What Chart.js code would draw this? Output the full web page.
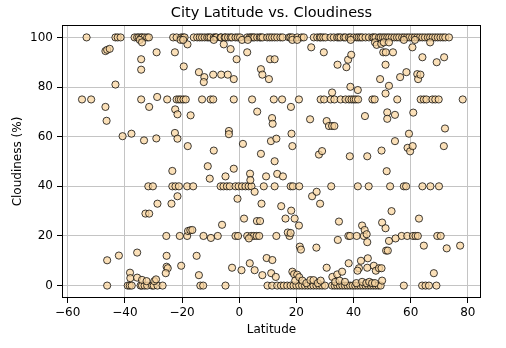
<!DOCTYPE html>
<html lang="en">
<head>
  <meta charset="UTF-8" />
  <title>City Latitude vs. Cloudiness</title>
  <script src="https://cdn.jsdelivr.net/npm/chart.js"></script>
  <style>
    body { margin: 0; background: #fff; }
    #wrap { width: 506px; height: 348px; }
  </style>
</head>
<body>
  <div id="wrap"><canvas id="scatter" width="506" height="348"></canvas></div>
  <script>
    // cities sitting on the common cloudiness levels (latitude only)
    const lat100 = [-53.4, -43.3, -42.5, -41.5, -36.6, -35.7, -35.1, -34.3, -33.9, -33.1, -32.2, -31.6,
      -23.1, -21.9, -20.3, -19.6, -19.1, -15.9, -14.7, -13.8, -13, -12.1, -11.2, -10.6, -10, -8.9, -8.3, -7.9, -6.5, -6.3, -5.1, -4.8, -3.9, -3, -2.5, -1.3, -0.5, 0.3,
      2.8, 3.7, 4.2, 4.8, 5.3, 6.3, 7.2, 7.6, 8.2, 9.8, 10.7, 11.5, 12.4, 13.3, 14.4, 15.2, 17.4, 17.9, 18.6, 20.3, 21.8, 22.6,
      26.1, 27.3, 28.2, 28.6, 29.4, 30.2, 32, 33.1, 34.3, 34.9, 35.5, 36.6, 37.2, 38.4, 39, 40.1, 41.1, 41.8, 42.5, 43.1, 44.2, 45.4, 46.6, 47.1, 47.7, 48.9,
      49.5, 50.3, 51, 51.8, 52.5, 53.4, 54.3, 55.2, 56, 57, 57.8, 58.7, 59.5, 60.5, 61.4, 62.3, 63.2, 64.1, 65, 66, 66.8, 67.7, 68.6, 69.5, 70.4, 71.3, 72.1, 73.4];
    const lat75 = [-55, -51.8, -34.3, -25.2, -21.9, -21.1, -20.4, -19.5, -18.7, -13, -10, -9.1, -1.9, 4.5, 12.1, 15, 20.9,
      28.5, 29.7, 32, 33.3, 35.5, 37.2, 38.4, 39.3, 40.1, 40.8, 41.6, 46.6, 47.4, 55.3, 63.5, 64.6, 65.5, 67.6, 68.6, 69.8, 78.2];
    const lat40 = [-31.8, -30.2, -23.4, -22.3, -21.1, -18.2, -16.1, -6.5, -5.5, -4.3, -3.3, -1.3, -0.2, 1, 2.2, 3.3, 4.3,
      8.6, 12.4, 18, 18.8, 21, 32.2, 41.5, 45.3, 52.8, 57.6, 58.4, 64.1, 66.9, 69.9];
    const lat20 = [-25.5, -20.8, -18.2, -12.5, -7.5, -1.3, -0.4, 2.8, 4.2, 5.1, 6.1, 7, 13, 17.6,
      38.2, 38.8, 41.1, 43.6, 56.8, 58.8, 60.8, 61.7, 62.5, 69.3, 70.5];
    const lat0 = [-46.2, -39, -38.3, -37.6, -34.5, -34, -33.1, -32.2, -30.5, -29.9, -28.6, -26.8, -13.6, -12.6, -4.8,
      9.9, 11.5, 13.3, 14.6, 15.6, 16.8, 18, 19, 20, 21, 22, 23, 24, 25, 26, 27, 28, 29, 30,
      32.5, 33.4, 34.3, 35.2, 36.1, 37, 37.9, 38.8, 39.7, 40.6, 41.5, 42.4, 43.3, 44.2, 45.1, 46, 46.9, 47.8, 48.7, 49.5,
      57.6, 64, 65.2, 66.4, 69];

    // everything else, as latitude / cloudiness pairs
    const latOther = [
      -46.8, -46.2, -45.3, -43.3, -46.8, -46.4, -40.8, -37.7, -34.3, -34.3,
      -33.3, -31.5, -28.9, -28.7, -29, -32.8, -31.5, -28.6, -23.7, -46.2,
      -42.1, -35.7, -38.2, -38.1, -35.7, -34, -32.4, -29.7, -29.1, -25.4,
      -25.4, -25, -25.7, -23.4, -22.5, -22.4, -21.6, -22.5, -21.6, -21.6,
      -20.3, -19.4, -18.1, -18, -17, -17.9, -17.1, -16.4, -14.9, -14.1,
      -14.1, -12.2, -12.4, -11, -10.3, -9.9, -9.1, -8.9, -6.3, -6,
      -5.4, -4.8, -4, -3.6, -3.6, -3, -2.5, -1.9, -1.9, -0.9,
      -0.6, 0.8, 1.3, 1.7, 2.8, 3.4, 3.8, 3.9, 3.7, 5.4,
      5.4, 6.2, 7.3, 6.3, 7.6, 8.1, 7.6, 7.8, 8.1, 9.4,
      9.6, 10.4, 10.8, 12.4, 11.5, 11.7, 11.1, 13, 12.4, 13.3,
      15.3, 11.6, 11.2, 12.8, 14.7, 16.2, 18.2, 19.4, 20.9, 17,
      18, 18.1, 18.3, 18.6, 21.2, 21.6, 18.6, 19.2, 20.3, 19.6,
      21, 22.1, 23.5, 24.9, 26, 27.5, 28.5, 24.8, 25.2, 25.5,
      27.1, 27, 28.3, 27.9, 29, 29.6, 30.6, 31.4, 32.5, 33.3,
      32.5, 30.6, 32.6, 34.3, 36, 33.6, 35.1, 37, 34.4, 34.9,
      34.5, 37.5, 38.1, 39.2, 38.9, 41.5, 38.7, 38.3, 43, 43.9,
      44.6, 44.8, 42.6, 41.9, 41.4, 44.8, 45, 44, 44.8, 47.5,
      48.1, 49.7, 50.6, 52.4, 50.4, 51.3, 53.8, 51.2, 49.3, 51.2,
      52.4, 51.8, 51.8, 54.5, 54.5, 49.8, 51.6, 50, 51.2, 51.4,
      52, 53.3, 52.4, 54.7, 56.3, 58.5, 59.4, 58.9, 59.8, 60.7,
      60.6, 60.9, 62.3, 62.6, 63.4, 62.9, 64.1, 64.6, 66.8, 68.1,
      69.1, 71.7, 71.6, 72, 72.6, 77.3, 47.1, 47.8, 48.9, 49.8,
      50, 57.6, 61.5, 39, 18.6, 20.3, 1, 3, -8.9, -20.5,
      -19.6, -34.8, -34, 41, 43, 44.5, 45.5, 46.5, 47.5
    ];
    const cloudOther = [
      94.5, 95, 95.4, 81, 72, 66.4, 60.2, 61.2, 91.2, 87,
      58.5, 72, 94, 76, 59.3, 29, 29, 33, 33, 10.2,
      12.1, 13.3, 5.2, 3, 3.2, 2.3, 1.8, 1.8, 2.5, 12,
      7.6, 7, 5, 46.2, 94, 71, 69, 61.5, 59.2, 36,
      8, 88.3, 97.2, 56.2, 68.6, 22, 22.3, 22.4, 12, 4.2,
      86, 84, 82, 48.1, 43.1, 19.2, 85, 54.4, 85, 24.5,
      97.2, 44, 85, 62.3, 61, 95.3, 7.2, 83.2, 47.1, 91.2,
      35, 6.2, 57.1, 27, 94, 19, 45.1, 42.5, 9, 37.8,
      6.2, 26, 26, 70.1, 87.2, 85, 53.1, 33, 4.2, 44,
      11.1, 83.2, 91.2, 91.2, 67.5, 65.2, 58.2, 59.2, 50.1, 45,
      44, 10.3, 5, 3.5, 32, 27, 30.2, 27, 24.2, 21.4,
      21.2, 72, 61.2, 56.2, 15.7, 14.5, 5.6, 4.6, 4.4, 2,
      3.4, 2, 1, 2.2, 2.2, 1, 2, 67, 96, 36,
      37.8, 15.3, 33, 52.8, 54.2, 94, 66.3, 64.3, 64.3, 64.3,
      77.8, 7.2, 3.5, 4.5, 5.6, 1.5, 2, 1.5, 89, 25.8,
      18.4, 88, 91, 93, 80.1, 78.8, 52.1, 9, 24.2, 22.4,
      20.7, 17.5, 10, 7, 6, 7.2, 11, 68.3, 52.1, 98,
      97, 97.4, 98, 98, 94, 94, 94, 89, 83.2, 77.4,
      80.5, 69.8, 67.2, 68.8, 58.2, 54.4, 46.1, 25.4, 23.1, 14.1,
      14.1, 30, 18, 19, 84, 86, 61.2, 55.5, 54.1, 56.2,
      96, 69.7, 85.2, 83.2, 85, 27, 92, 16.1, 98, 5,
      90, 92, 56.2, 63.3, 15, 16.1, 8, 6, 7, 7,
      2, 99, 99, 99, 99, 99, 99, 99, 99, 99,
      99, 99, 98, 1, 1.5, 1, 1.5, 1, 1
    ];

    const xTicks = [-60, -40, -20, 0, 20, 40, 60, 80];
    const yTicks = [0, 20, 40, 60, 80, 100];

    const points = [];
    [[lat100, 100], [lat75, 75], [lat40, 40], [lat20, 20], [lat0, 0]].forEach(([lats, c]) => {
      lats.forEach(x => points.push({ x: x, y: c }));
    });
    latOther.forEach((x, i) => points.push({ x: x, y: cloudOther[i] }));

    const font = { family: 'DejaVu Sans', size: 12 };
    const ink = '#000';

    // matplotlib style box around the plot area
    const frame = {
      id: 'frame',
      afterDraw(chart) {
        const { ctx, chartArea: a } = chart;
        ctx.save();
        ctx.strokeStyle = '#000';
        ctx.lineWidth = 1;
        ctx.strokeRect(Math.round(a.left) + 0.5, Math.round(a.top) + 0.5,
          Math.round(a.right - a.left) - 1, Math.round(a.bottom - a.top) - 1);
        ctx.restore();
      }
    };

    new Chart(document.getElementById('scatter'), {
      type: 'scatter',
      data: {
        datasets: [{
          data: points,
          backgroundColor: 'rgba(250,214,160,0.75)',
          borderColor: 'rgba(0,0,0,0.75)',
          borderWidth: 1,
          pointRadius: 3.6
        }]
      },
      options: {
        responsive: false,
        animation: false,
        layout: { padding: { left: 0, right: 25, top: 0, bottom: 0 } },
        plugins: {
          legend: { display: false },
          tooltip: { enabled: false },
          title: {
            display: true,
            fullSize: false,
            text: 'City Latitude vs. Cloudiness',
            color: ink,
            font: { family: 'DejaVu Sans', size: 14.5, weight: 'normal' },
            padding: { top: 5, bottom: 2.6 }
          }
        },
        scales: {
          x: {
            type: 'linear',
            min: -62,
            max: 84.6,
            afterBuildTicks: s => { s.ticks = xTicks.map(v => ({ value: v })); },
            afterFit: s => { s.height = 50; },
            ticks: {
              color: ink, font: font, padding: 3, maxRotation: 0,
              callback: v => String(v).replace('-', '\u2212')
            },
            grid: { color: '#c4c4c4', tickColor: '#000', tickLength: 5 },
            border: { display: false },
            title: { display: true, text: 'Latitude', color: ink, font: font, padding: { top: 0, bottom: 10.5 } }
          },
          y: {
            min: -5,
            max: 105,
            afterBuildTicks: s => { s.ticks = yTicks.map(v => ({ value: v })); },
            afterFit: s => { s.width = 62; },
            ticks: { color: ink, font: font, padding: 4 },
            grid: { color: '#c4c4c4', tickColor: '#000', tickLength: 5 },
            border: { display: false },
            title: { display: true, text: 'Cloudiness (%)', color: ink, font: font, padding: { top: 11, bottom: 0 } }
          }
        }
      },
      plugins: [frame]
    });
  </script>
</body>
</html>
